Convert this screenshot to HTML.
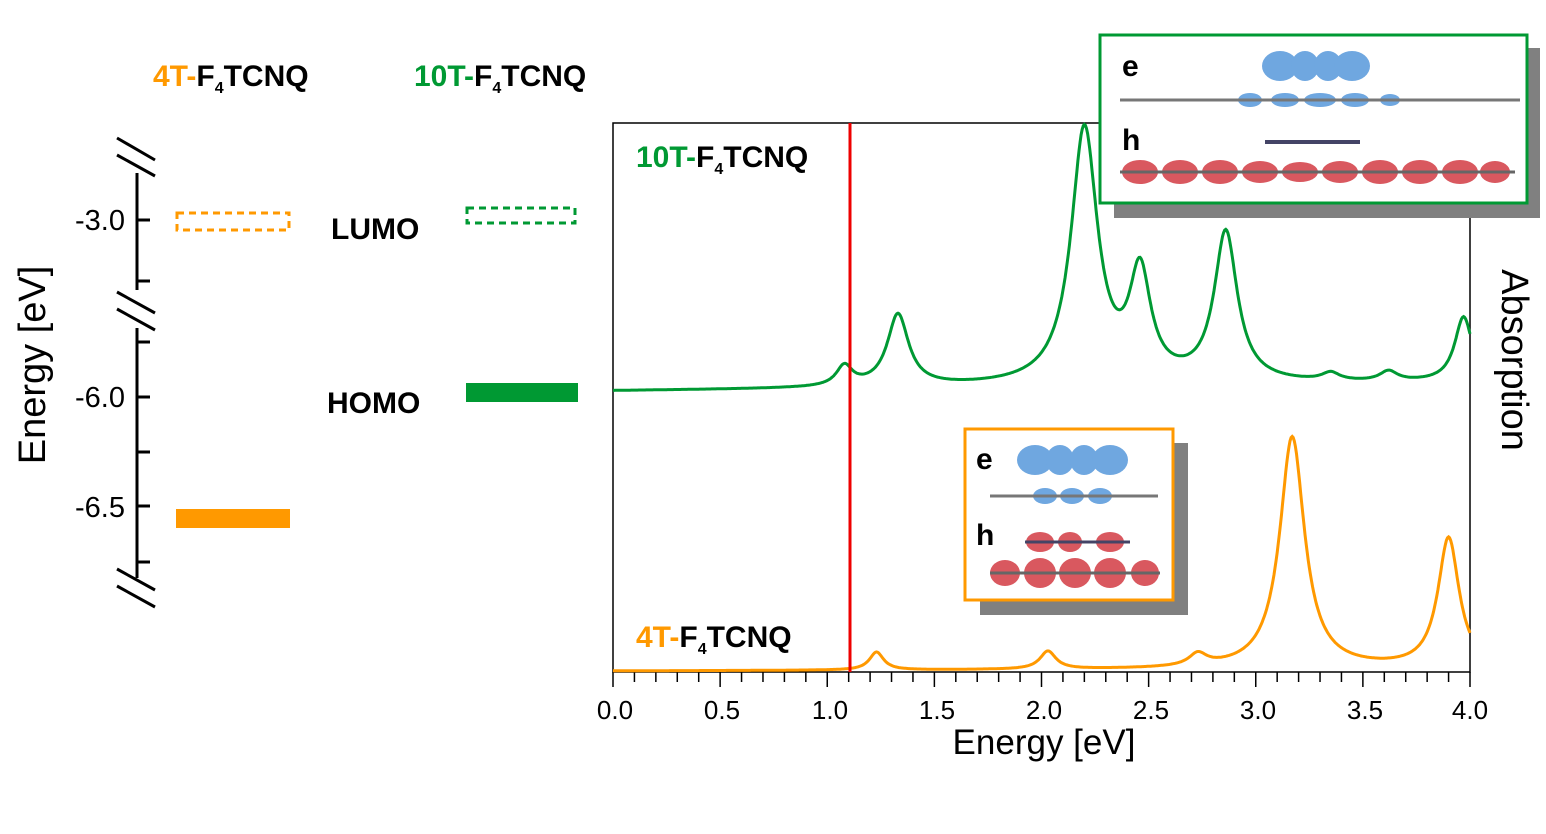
<!DOCTYPE html>
<html><head><meta charset="utf-8">
<style>
body{margin:0;background:#fff;width:1546px;height:829px;overflow:hidden;font-family:"Liberation Sans",sans-serif}
svg text{font-family:"Liberation Sans",sans-serif}
</style></head><body>
<svg id="s" width="1546" height="829" viewBox="0 0 1546 829" xmlns="http://www.w3.org/2000/svg">
<g stroke="#000" stroke-width="3" fill="none">
<line x1="137" y1="173" x2="137" y2="290"/>
<line x1="137" y1="328" x2="137" y2="578"/>
<line x1="137" y1="220" x2="150" y2="220"/>
<line x1="137" y1="281" x2="150" y2="281"/>
<line x1="137" y1="342" x2="150" y2="342"/>
<line x1="137" y1="397" x2="150" y2="397"/>
<line x1="137" y1="452" x2="150" y2="452"/>
<line x1="137" y1="506" x2="150" y2="506"/>
<line x1="137" y1="562" x2="150" y2="562"/>
<line x1="117" y1="138" x2="155" y2="160"/><line x1="117" y1="155" x2="155" y2="176"/>
<line x1="117" y1="292" x2="155" y2="313"/><line x1="117" y1="309" x2="155" y2="330"/>
<line x1="117" y1="569" x2="155" y2="590"/><line x1="117" y1="586" x2="155" y2="607"/>
</g>
<g font-size="29" fill="#000" text-anchor="end">
<text x="125" y="230">-3.0</text><text x="125" y="407">-6.0</text><text x="125" y="517">-6.5</text>
</g>
<text transform="translate(45,365) rotate(-90)" font-size="38" text-anchor="middle">Energy [eV]</text>
<rect x="177" y="213" width="112" height="17" fill="none" stroke="#f90" stroke-width="3" stroke-dasharray="7,5"/>
<rect x="176" y="509" width="114" height="19" fill="#f90"/>
<rect x="467" y="208" width="108" height="15" fill="none" stroke="#093" stroke-width="3" stroke-dasharray="7,5"/>
<rect x="466" y="383" width="112" height="19" fill="#093"/>
<g font-weight="bold" font-size="30">
<text x="153" y="86"><tspan fill="#f90">4T-</tspan>F<tspan font-size="16" dy="7">4</tspan><tspan dy="-7">TCNQ</tspan></text>
<text x="414" y="86"><tspan fill="#093">10T-</tspan>F<tspan font-size="16" dy="7">4</tspan><tspan dy="-7">TCNQ</tspan></text>
<text x="331" y="239">LUMO</text>
<text x="327" y="413">HOMO</text>
</g>
<rect x="613" y="123" width="857" height="549" fill="none" stroke="#000" stroke-width="1.5"/>
<g id="ticks" stroke="#000" stroke-width="1.5"></g>
<g font-size="26" text-anchor="middle">
<text x="615" y="719">0.0</text><text x="722" y="719">0.5</text><text x="830" y="719">1.0</text><text x="937" y="719">1.5</text><text x="1044" y="719">2.0</text><text x="1151" y="719">2.5</text><text x="1258" y="719">3.0</text><text x="1365" y="719">3.5</text><text x="1470" y="719">4.0</text>
</g>
<text x="1044" y="754" font-size="35" text-anchor="middle">Energy [eV]</text>
<text transform="translate(1502,360) rotate(90)" font-size="38" text-anchor="middle">Absorption</text>
<path id="gp" fill="none" stroke="#093" stroke-width="3"/>
<path id="op" fill="none" stroke="#f90" stroke-width="3"/>
<line x1="850" y1="123" x2="850" y2="672" stroke="#e00" stroke-width="3"/>
<g font-weight="bold" font-size="30">
<text x="636" y="167"><tspan fill="#093">10T-</tspan>F<tspan font-size="16" dy="7">4</tspan><tspan dy="-7">TCNQ</tspan></text>
<text x="636" y="647"><tspan fill="#f90">4T-</tspan>F<tspan font-size="16" dy="7">4</tspan><tspan dy="-7">TCNQ</tspan></text>
</g>
<rect x="1114" y="48" width="426" height="170" fill="#808080"/>
<rect x="1100" y="35" width="427" height="168" fill="#fff" stroke="#093" stroke-width="3"/>
<text x="1122" y="76" font-size="30" font-weight="bold">e</text>
<text x="1122" y="150" font-size="30" font-weight="bold">h</text>
<g fill="#6fa7e0"><ellipse cx="1280" cy="66" rx="18" ry="15"/><ellipse cx="1305" cy="66" rx="14" ry="15"/><ellipse cx="1328" cy="66" rx="14" ry="15"/><ellipse cx="1352" cy="66" rx="18" ry="15"/>
<ellipse cx="1250" cy="100" rx="12" ry="7"/><ellipse cx="1285" cy="100" rx="14" ry="7"/><ellipse cx="1320" cy="100" rx="16" ry="7"/><ellipse cx="1355" cy="100" rx="14" ry="7"/><ellipse cx="1390" cy="100" rx="10" ry="6"/></g>
<line x1="1120" y1="100" x2="1520" y2="100" stroke="#777" stroke-width="3"/>
<line x1="1265" y1="142" x2="1360" y2="142" stroke="#446" stroke-width="4"/>
<g fill="#d9585f"><ellipse cx="1140" cy="172" rx="18" ry="12"/><ellipse cx="1180" cy="172" rx="18" ry="12"/><ellipse cx="1220" cy="172" rx="18" ry="12"/><ellipse cx="1260" cy="172" rx="18" ry="11"/><ellipse cx="1300" cy="172" rx="18" ry="10"/><ellipse cx="1340" cy="172" rx="18" ry="11"/><ellipse cx="1380" cy="172" rx="18" ry="12"/><ellipse cx="1420" cy="172" rx="18" ry="12"/><ellipse cx="1460" cy="172" rx="18" ry="12"/><ellipse cx="1495" cy="172" rx="15" ry="11"/></g>
<line x1="1120" y1="172" x2="1515" y2="172" stroke="#666" stroke-width="3"/>
<rect x="980" y="443" width="208" height="172" fill="#808080"/>
<rect x="965" y="429" width="208" height="171" fill="#fff" stroke="#f90" stroke-width="3"/>
<text x="976" y="469" font-size="30" font-weight="bold">e</text>
<text x="976" y="545" font-size="30" font-weight="bold">h</text>
<g fill="#6fa7e0"><ellipse cx="1035" cy="460" rx="18" ry="15"/><ellipse cx="1060" cy="460" rx="14" ry="15"/><ellipse cx="1084" cy="460" rx="14" ry="15"/><ellipse cx="1110" cy="460" rx="18" ry="15"/>
<ellipse cx="1045" cy="496" rx="12" ry="8"/><ellipse cx="1072" cy="496" rx="12" ry="8"/><ellipse cx="1100" cy="496" rx="12" ry="8"/></g>
<line x1="990" y1="496" x2="1158" y2="496" stroke="#777" stroke-width="3"/>
<g fill="#d9585f"><ellipse cx="1040" cy="542" rx="14" ry="10"/><ellipse cx="1070" cy="542" rx="12" ry="10"/><ellipse cx="1110" cy="542" rx="14" ry="10"/>
<ellipse cx="1005" cy="573" rx="15" ry="13"/><ellipse cx="1040" cy="573" rx="16" ry="15"/><ellipse cx="1075" cy="573" rx="16" ry="15"/><ellipse cx="1110" cy="573" rx="16" ry="15"/><ellipse cx="1145" cy="573" rx="14" ry="13"/></g>
<line x1="1025" y1="542" x2="1130" y2="542" stroke="#446" stroke-width="3"/>
<line x1="990" y1="573" x2="1160" y2="573" stroke="#666" stroke-width="3"/>
</svg>
<script>
var x0=613,sc=214.25;
var t=document.getElementById('ticks'),h='';
for(var i=0;i<=40;i++){var x=x0+i*sc/10;h+='<line x1="'+x+'" y1="672" x2="'+x+'" y2="'+(i%5==0?687:682)+'"/>';}
t.innerHTML=h;
function L(e,c,g,a){return a*g*g/((e-c)*(e-c)+g*g);}
function path(base,pk,drift){var d='';for(var i=0;i<=800;i++){var e=i*4/800,y=base-drift*e;pk.forEach(function(p){y-=L(e,p[0],p[1],p[2]);});if(y<123)y=123;d+=(i?'L':'M')+(x0+e*sc).toFixed(1)+' '+y.toFixed(1);}return d;}
document.getElementById('gp').setAttribute('d',path(391,[[1.08,0.045,20],[1.33,0.06,72],[2.2,0.075,255],[2.46,0.06,105],[2.86,0.065,150],[3.35,0.05,8],[3.62,0.05,10],[3.97,0.05,65]],2));
document.getElementById('op').setAttribute('d',path(671,[[1.23,0.04,18],[2.03,0.045,18],[2.73,0.05,12],[3.17,0.07,232],[3.9,0.06,130]],0.5));
</script>
</body></html>
